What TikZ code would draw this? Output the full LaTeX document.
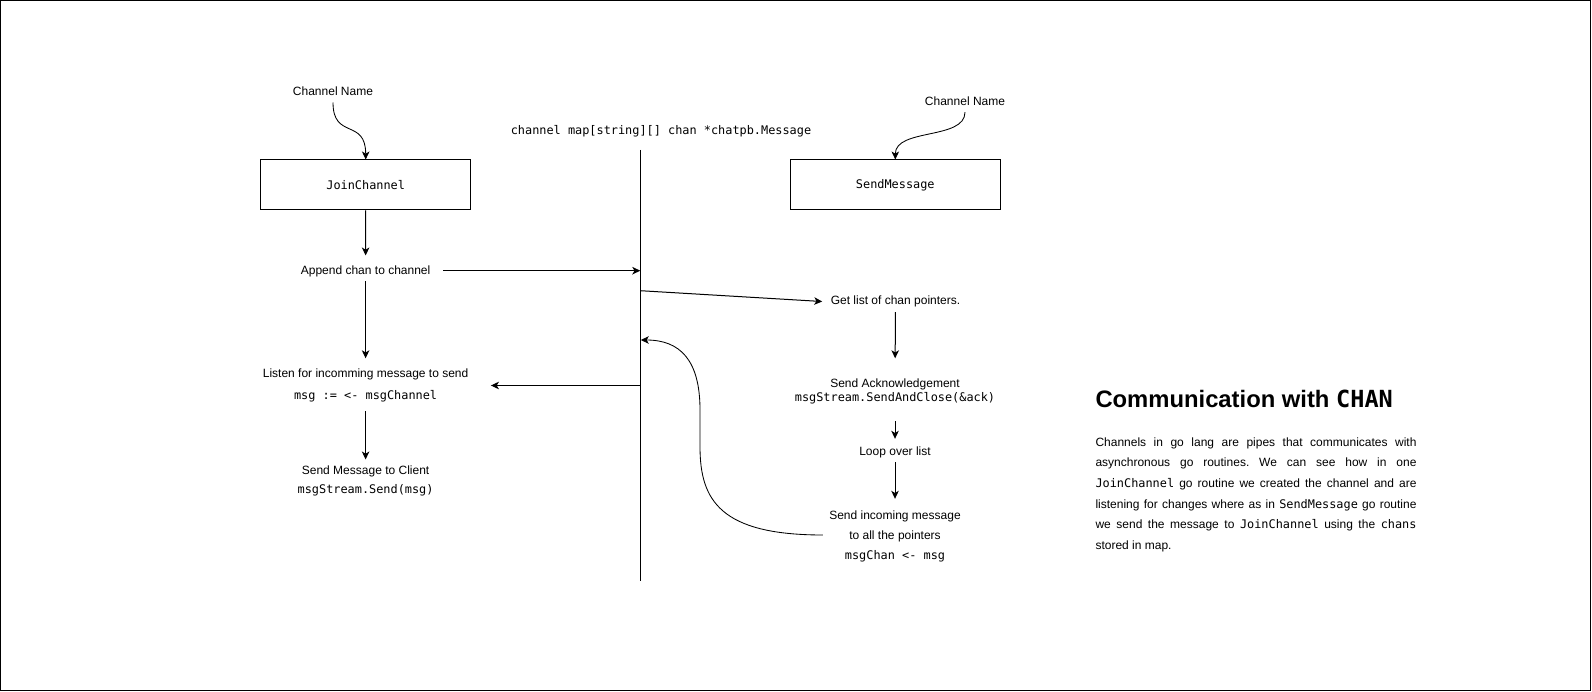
\documentclass[tikz,border=0pt]{standalone}
\usepackage{fontspec}
\setmainfont{Liberation Sans}
\setsansfont{Liberation Sans}
\setmonofont[Scale=0.99]{DejaVu Sans Mono}
\usetikzlibrary{arrows.meta,fit}
\frenchspacing
\begin{document}
\begin{tikzpicture}[x=1pt,y=-1pt,line width=1pt,
  lbl/.style={font=\fontsize{12}{14}\selectfont,inner sep=0pt,anchor=base,text height=9pt,text depth=3pt},
  code/.style={font=\ttfamily\fontsize{12}{14}\selectfont,inner sep=0pt,anchor=base,text height=9pt,text depth=3pt},
  codebox/.style={draw,font=\ttfamily\fontsize{12}{14}\selectfont,inner sep=0pt,minimum width=210pt,minimum height=50pt},
  arr/.style={-{Stealth[length=8pt,width=7.5pt,inset=2.2pt]}},
  curve/.style={arr,line width=0.85pt},
  grp/.style={inner sep=0pt}]
\useasboundingbox (0,0) rectangle (1592,692);
\draw (0.5,0.5) rectangle (1590,690);

% left column
\node[lbl] (cn1) at (333,95.7) {Channel Name};
\node[codebox] (join) at (365.7,185) {JoinChannel};
\node[lbl] (append) at (365.6,274.7) {Append chan to channel};
\node[lbl] (listen1) at (365.6,377.3) {Listen for incomming message to send};
\node[code] (listen2) at (365.6,399.7) {msg := <- msgChannel};
\node[grp,fit=(listen1)(listen2)] (listen) {};
\node[lbl] (client1) at (365.6,474) {Send Message to Client};
\node[code] (client2) at (365.6,493.3) {msgStream.Send(msg)};

% middle
\node[code] (chmap) at (661,134.7) {channel map[string][] chan *chatpb.Message};
\coordinate (vtop) at (640.3,150);
\coordinate (vbot) at (640.3,580.7);
\coordinate (vout) at (640.3,290.7);
\coordinate (vin) at (640.8,340);
\draw (vtop) -- (vbot);

% right column
\node[lbl] (cn2) at (965,105.7) {Channel Name};
\node[codebox] (send) at (895.3,185) {SendMessage};
\node[lbl] (getlist) at (895.5,305) {Get list of chan pointers.};
\node[lbl] (ack1) at (895,387.3) {Send Acknowledgement};
\node[code] (ack2) at (895,401.7) {msgStream.SendAndClose(\&ack)};
\node[grp,fit=(ack1)(ack2)] (ack) {};
\node[lbl] (loop) at (895,455) {Loop over list};
\node[lbl] (inc1) at (895,519) {Send incoming message};
\node[lbl] (inc2) at (895,539) {to all the pointers};
\node[code] (inc3) at (895,559) {msgChan <- msg};

% text block
\node[anchor=base west,inner sep=0pt,font=\bfseries\fontsize{23.8}{28}\selectfont] (title) at (1095,407.3) {Communication with \texttt{CHAN}};
\node[anchor=north west,inner sep=0pt,text width=321pt,align=justify,font=\fontsize{12}{20.7}\selectfont] (para) at (1095,437)
{\tolerance=10000\hyphenpenalty=10000\frenchspacing\noindent
Channels in go lang are pipes that communicates with\linebreak
asynchronous go routines. We can see how in one\linebreak
\texttt{JoinChannel} go routine we created the channel and are\linebreak
listening for changes where as in \texttt{SendMessage} go routine\linebreak
we send the message to \texttt{JoinChannel} using the \texttt{chans}\linebreak
stored in map.};

% connectors
\draw[curve] ([yshift=-3.3pt]cn1.south) .. controls (333,140) and (365.7,118) .. (join.north);
\draw[curve] ([yshift=-3pt]cn2.south) .. controls (965,140) and (895.3,128) .. (send.north);
\draw[arr,shorten >=9.7pt] (join.south) -- (append.north);
\draw[arr,shorten <=12.3pt] ([yshift=1pt]append.east) -- ([yshift=1pt]append.east -| vtop);
\draw[arr,shorten <=3pt,shorten >=9pt] (append.south) -- (listen.north);
\draw[arr,shorten >=21.6pt] (listen.east -| vtop) -- (listen.east);
\draw[arr,shorten <=7.3pt,shorten >=5pt] (listen.south) -- (client1.north);
\draw[arr,shorten >=8.1pt] (vout) -- (getlist.west);
\draw[arr,shorten <=3.7pt,shorten >=19pt] (getlist.south) -- (ack.north);
\draw[arr,shorten <=15.3pt,shorten >=6.7pt] (ack.south) -- (loop.north);
\draw[arr,shorten <=3.7pt,shorten >=10.7pt] (loop.south) -- (inc1.north);
\draw[curve] ([xshift=-26pt,yshift=1pt]inc2.west) .. controls (720,535) and (700,500) .. (700,446.7)
  -- (700,410) .. controls (700,360) and (680,340) .. (vin);
\end{tikzpicture}
\end{document}
